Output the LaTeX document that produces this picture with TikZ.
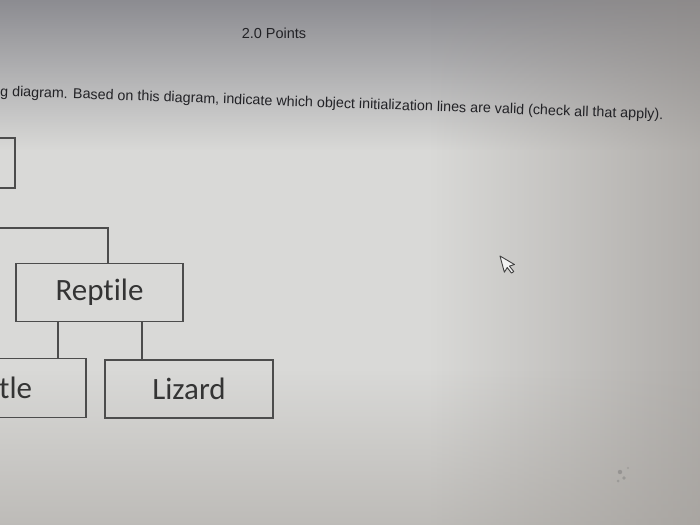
\documentclass[tikz,border=0pt]{standalone}
\usepackage{fontspec}
\setmainfont{Liberation Sans}
\newfontfamily\calib[Ligatures=NoCommon]{Carlito}
\usetikzlibrary{fadings}
\tikzfading[name=fadeR, left color=transparent!100, right color=transparent!0]
\tikzfading[name=fadeD, top color=transparent!100, bottom color=transparent!0]
\tikzfading[name=fadeU, top color=transparent!0, bottom color=transparent!100]
\definecolor{bgmid}{HTML}{D9D9D7}
\definecolor{bgtop}{HTML}{8C8C91}
\definecolor{bgright}{HTML}{8F8A86}
\definecolor{bgbot}{HTML}{A29E99}
\definecolor{boxline}{HTML}{4C4C4C}
\definecolor{txtc}{HTML}{343434}
\definecolor{hdr}{HTML}{222226}
\begin{document}
\begin{tikzpicture}[x=1pt,y=-1pt,
  box/.style={draw=boxline, line width=1.1pt, minimum width=167pt, minimum height=58pt, inner sep=0pt},
  lbl/.style={font=\calib\fontsize{31}{31}\selectfont, text=txtc, inner sep=0pt},
  wire/.style={draw=boxline, line width=1.1pt},
  hdrtext/.style={text=hdr, inner sep=0pt}]
\useasboundingbox (0,0) rectangle (700,525);
\clip (0,0) rectangle (700,525);
% background
\fill[bgmid] (0,0) rectangle (700,525);
\fill[bgtop, path fading=fadeU] (0,0) rectangle (700,150);
\fill[bgright, path fading=fadeR, opacity=0.55] (430,0) rectangle (700,525);
\fill[bgbot, path fading=fadeD, opacity=0.5] (0,370) rectangle (700,525);
% header texts
\node[hdrtext, font=\fontsize{14.5}{15}\selectfont] (pts) at (274,33) {2.0 Points};
\node[hdrtext, anchor=base west, rotate=-2, font=\fontsize{14.3}{15}\selectfont] (q) at (0,96)
  {g diagram. Based on this diagram, indicate which object initialization lines are valid (check all that apply).};
% boxes
\node[box, minimum height=50pt] (top) at (-68.5,163) {};
\node[box] (rep) at (99.5,292.5) {};
\node[lbl] (replbl) at (rep.center) {Reptile};
\node[box, minimum height=59pt] (tur) at (2.5,388) {};
\node[lbl, anchor=west] (turlbl) at (-1,388) {tle};
\node[box, minimum width=168pt] (liz) at (189,389) {};
\node[lbl] (lizlbl) at (liz.center) {Lizard};
% connectors
\coordinate (pin) at (0,228);
\coordinate (c1) at (108,228);
\coordinate (c2) at (58,0);
\coordinate (c3) at (142,0);
\draw[wire] (pin) -- (c1) -- (c1 |- rep.north);
\draw[wire] (c2 |- rep.south) -- (c2 |- tur.north);
\draw[wire] (c3 |- rep.south) -- (c3 |- liz.north);
% mouse cursor
\begin{scope}[shift={(500,256)}, rotate=15, scale=1.05]
  \draw[line width=0.9pt, draw=black!75, fill=white!90!gray, line join=round]
    (0,0) -- (0,16) -- (3.8,12.4) -- (6.4,18.6) -- (8.8,17.6) -- (6.2,11.6) -- (11.2,11.4) -- cycle;
\end{scope}
% dust speck
\fill[black!55, opacity=0.45] (620,472) circle (2.2);
\fill[black!55, opacity=0.4] (624,478) circle (1.8);
\fill[black!55, opacity=0.35] (618,481) circle (1.5);
\fill[black!55, opacity=0.3] (628,468) circle (1.2);
\end{tikzpicture}
\end{document}
